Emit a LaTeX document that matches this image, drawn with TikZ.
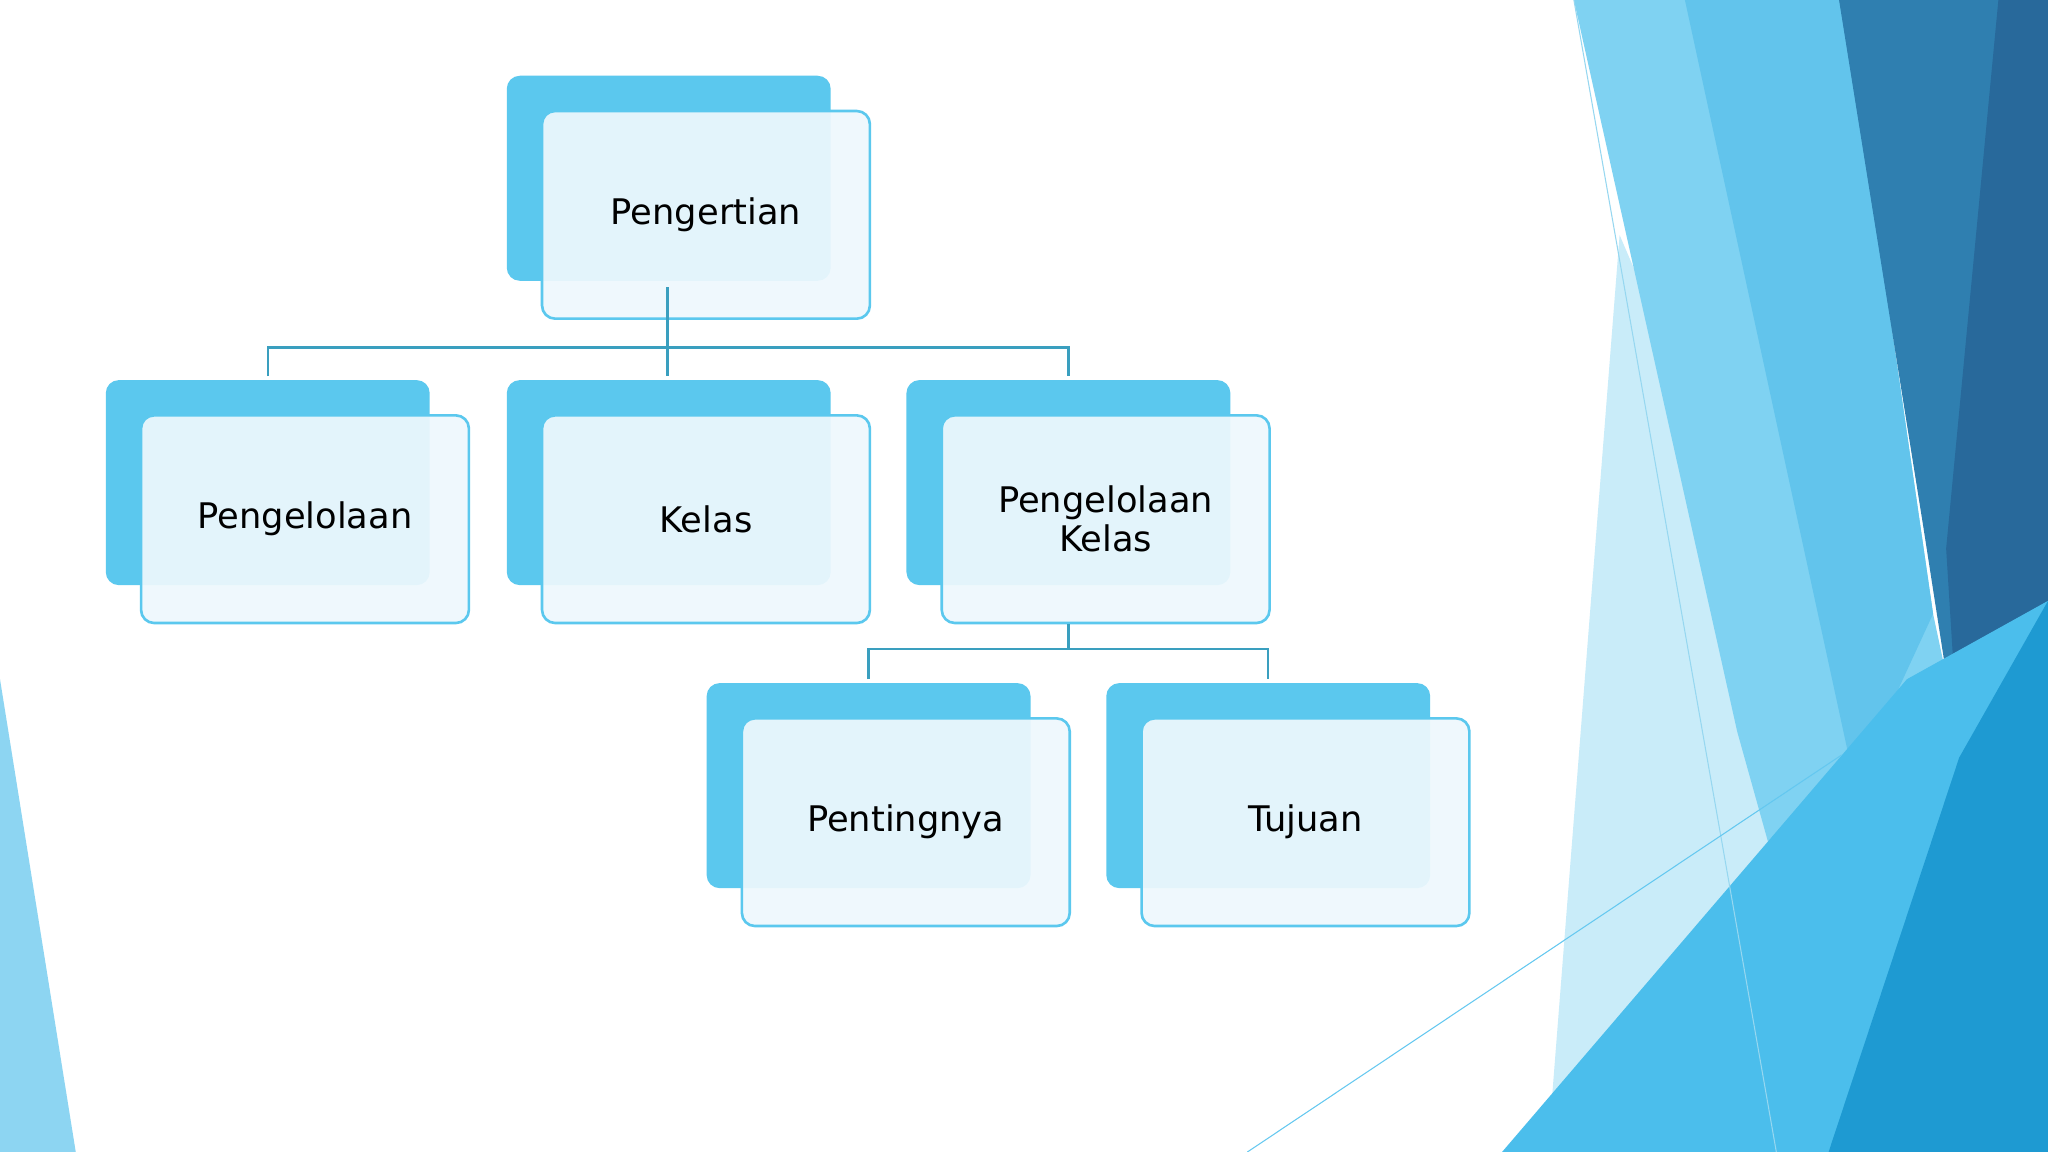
\documentclass[tikz,border=0pt]{standalone}
\usepackage{fontspec}
\setmainfont{DejaVu Sans}
\definecolor{cback}{HTML}{5BC8EE}
\definecolor{cfront}{HTML}{EEF8FD}
\definecolor{cline}{HTML}{3A9FBF}
\definecolor{bgA}{RGB}{141,213,242}
\definecolor{bgB}{RGB}{201,236,249}
\definecolor{bgC}{RGB}{127,210,242}
\definecolor{bgD}{RGB}{98,196,236}
\definecolor{bgE}{RGB}{47,127,176}
\definecolor{bgF}{RGB}{40,105,155}
\definecolor{bgG}{RGB}{75,190,236}
\definecolor{bgH}{RGB}{30,154,210}
\definecolor{lnA}{RGB}{150,215,240}
\definecolor{lnB}{RGB}{100,200,240}
\begin{document}
\begin{tikzpicture}[x=1pt,y=-1pt,
  back/.style={fill=cback,rounded corners=10pt},
  front/.style={fill=cfront,fill opacity=0.93,draw=cback,line width=2pt,rounded corners=10pt,text opacity=1},
  lbl/.style={font=\fontsize{27}{30}\selectfont,align=center,text=black},
  conn/.style={draw=cline,line width=1.8pt}]
\useasboundingbox (0,0) rectangle (1568,882);
\fill[white] (0,0) rectangle (1568,882);
% background decoration
\fill[bgA] (0,520) -- (58,882) -- (0,882) -- cycle;
\fill[bgB] (1240,180) -- (1420,600) -- (1330,882) -- (1185,882) -- cycle;
\fill[bgC] (1205,0) -- (1412,0) -- (1480,470) -- (1568,882) -- (1420,882) -- (1330,560) -- cycle;
\fill[bgD] (1290,0) -- (1412,0) -- (1480,470) -- (1420,600) -- cycle;
\fill[bgE] (1408,0) -- (1568,0) -- (1568,460) -- (1500,580) -- (1472,400) -- cycle;
\fill[bgF] (1530,0) -- (1568,0) -- (1568,460) -- (1500,580) -- (1490,420) -- cycle;
\fill[bgG] (1150,882) -- (1460,520) -- (1568,460) -- (1568,882) -- cycle;
\fill[bgH] (1400,882) -- (1500,580) -- (1568,460) -- (1568,882) -- cycle;
\draw[lnA,line width=0.8pt] (1205,0) -- (1360,882);
\draw[lnB,line width=0.8pt] (955,882) -- (1410,578);
% nodes
\foreach \n/\x/\y/\t in {p/388/58/Pengertian,a/81/291/Pengelolaan,b/388/291/Kelas,c/694/291/{Pengelolaan\\Kelas},d/541/523/Pentingnya,e/847/523/Tujuan}{
  \fill[back] (\x,\y) rectangle ++(248,157);
  \node[front,minimum width=251pt,minimum height=159pt,anchor=north west,lbl] (\n) at (\x+26,\y+26) {\t};
}
\coordinate (j1) at (511,266);
\coordinate (j2) at (818,497);
\draw[conn] (511,220) -- (j1);
\draw[conn] (205,288) |- (j1) -| (818,288);
\draw[conn] (511,266) -- (511,288);
\draw[conn] (c.south -| j2) -- (j2);
\draw[conn] (665,520) |- (j2) -| (971,520);
\end{tikzpicture}
\end{document}
